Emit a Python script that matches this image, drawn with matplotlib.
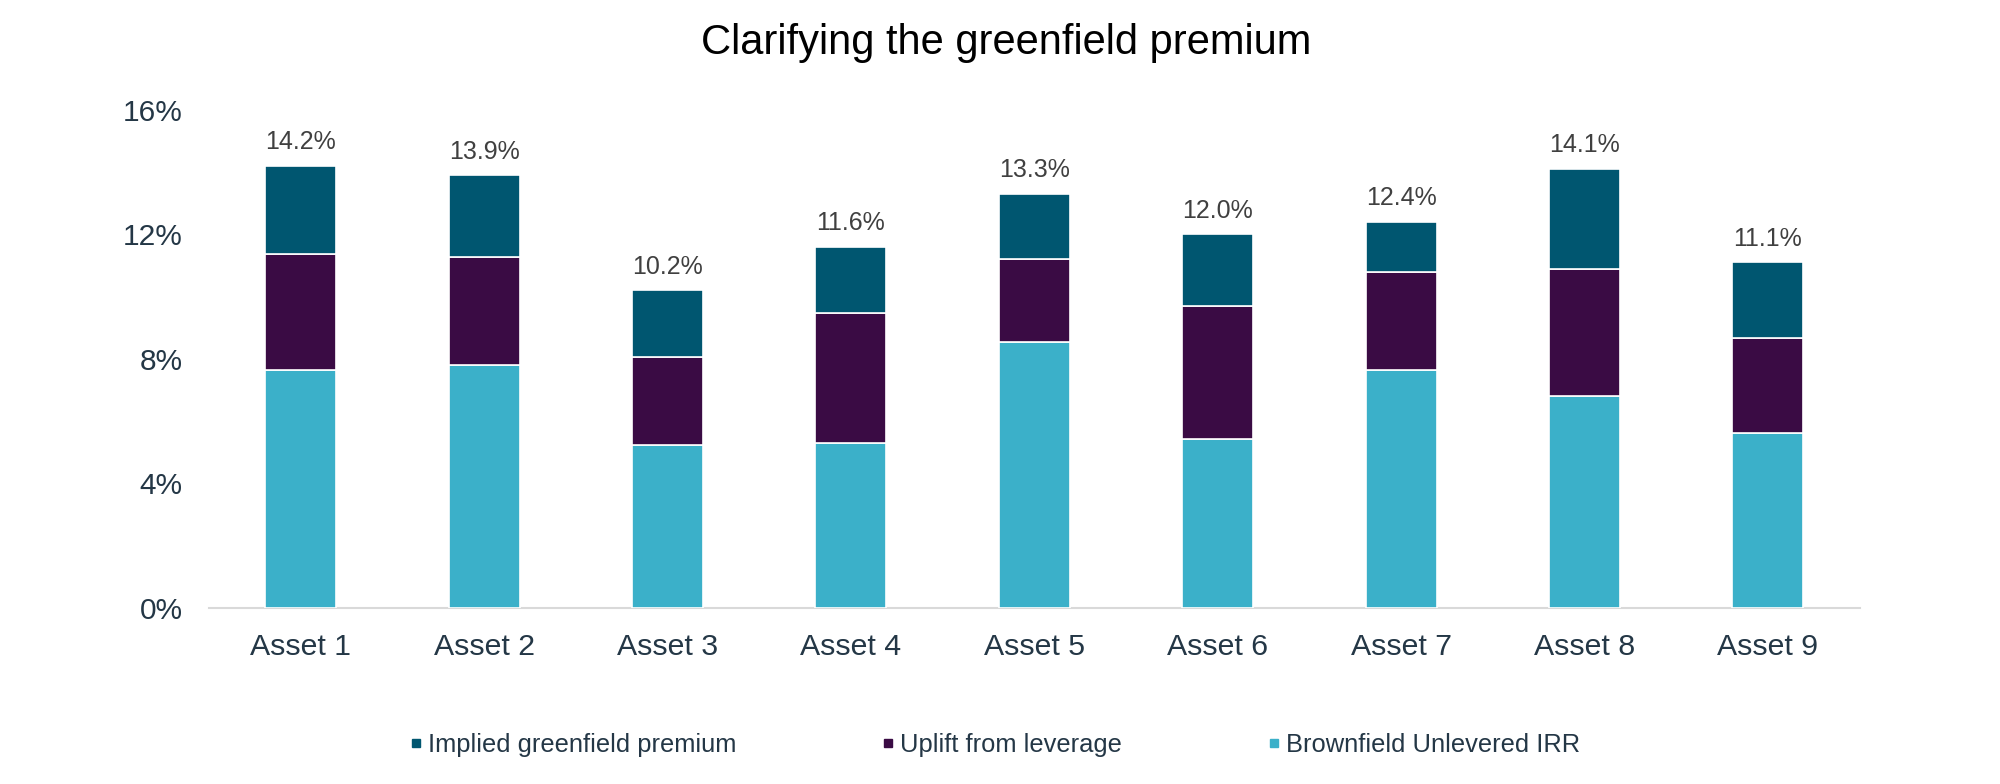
import matplotlib
matplotlib.use("Agg")
import matplotlib.pyplot as plt
from matplotlib.lines import Line2D
import numpy as np

# ---- data ----
categories = ["Asset 1", "Asset 2", "Asset 3", "Asset 4", "Asset 5",
              "Asset 6", "Asset 7", "Asset 8", "Asset 9"]
brownfield = [7.65, 7.81, 5.23, 5.30, 8.55, 5.43, 7.65, 6.81, 5.60]
uplift = [3.73, 3.47, 2.81, 4.16, 2.67, 4.27, 3.13, 4.08, 3.08]
totals = [14.2, 13.9, 10.2, 11.6, 13.3, 12.0, 12.4, 14.1, 11.1]
premium = [t - b - u for t, b, u in zip(totals, brownfield, uplift)]
series_names = ["Implied greenfield premium", "Uplift from leverage",
                "Brownfield Unlevered IRR"]
yticks = [0, 4, 8, 12, 16]
ytick_labels = ["0%", "4%", "8%", "12%", "16%"]

# ---- style ----
plt.rcParams['font.family'] = ['Liberation Sans', 'DejaVu Sans']
c_brown = "#3BB0C9"
c_uplift = "#3A0B44"
c_prem = "#005670"
txt_col = "#243746"

fig = plt.figure(figsize=(20, 7.84), dpi=100)
ax = fig.add_axes([0.1045, 0.2251, 0.8253, 0.6347])

x = np.arange(len(categories))
w = 0.387
b1 = np.array(brownfield)
b2 = b1 + np.array(uplift)
ax.bar(x, brownfield, w, color=c_brown, edgecolor="white", linewidth=1.2, zorder=2)
ax.bar(x, uplift, w, bottom=b1, color=c_uplift, edgecolor="white", linewidth=1.2, zorder=2)
ax.bar(x, premium, w, bottom=b2, color=c_prem, edgecolor="white", linewidth=1.2, zorder=2)

for xi, t in zip(x, totals):
    ax.annotate(f"{t:.1f}%", (xi, t), xytext=(0, 12), textcoords="offset points",
                ha="center", va="baseline", fontsize=18, color="#404040")

ax.set_xlim(-0.5, len(categories) - 0.5)
ax.set_ylim(0, 16)
ax.set_yticks(yticks)
ax.set_yticklabels(ytick_labels)
ax.set_xticks(x)
ax.set_xticklabels(categories)
ax.tick_params(axis="y", length=0, pad=19, labelsize=21.5, labelcolor=txt_col)
ax.tick_params(axis="x", length=0, pad=18.5, labelsize=21.8, labelcolor=txt_col)
for s in ["top", "right", "left"]:
    ax.spines[s].set_visible(False)
ax.spines["bottom"].set_color("#D9D9D9")
ax.spines["bottom"].set_linewidth(1.5)
ax.spines["bottom"].set_zorder(1)

fig.text(0.503, 0.931, "Clarifying the greenfield premium", ha="center",
         va="baseline", fontsize=30, color="black")

handles = [Line2D([], [], marker="s", linestyle="none", markersize=6, color=c)
           for c in [c_prem, c_uplift, c_brown]]
fig.legend(handles, series_names, loc="center", bbox_to_anchor=(0.498, 0.05),
           ncol=3, frameon=False, fontsize=18.4, labelcolor=txt_col,
           handlelength=0.31, handletextpad=0.31, columnspacing=5.8,
           borderaxespad=0, borderpad=0)

fig.savefig("out.png", dpi=100, facecolor="white")
